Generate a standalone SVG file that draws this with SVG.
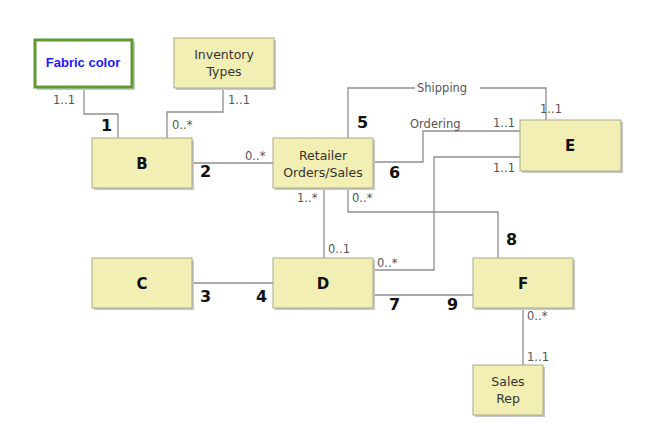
<svg xmlns="http://www.w3.org/2000/svg" width="663" height="435" viewBox="0 0 663 435">
<defs><style>
.n{fill:#f2efb4;stroke:#a9a98a;stroke-width:1}
.s{fill:#c8c8c8}
.l{fill:none;stroke:#8e8e8e;stroke-width:1.3}
.t{font-family:"DejaVu Sans",sans-serif;font-size:12.5px;fill:#333;text-anchor:middle}
.m{font-family:"DejaVu Sans",sans-serif;font-size:11.5px;fill:#555}
.b{font-family:"DejaVu Sans",sans-serif;font-size:16px;font-weight:bold;fill:#111}
.bl{font-family:"DejaVu Sans",sans-serif;font-size:15px;font-weight:bold;fill:#111}
</style></defs>
<rect width="663" height="435" fill="#fff"/>
<g id="connectors">
<polyline class="l" points="84,88 84,114 118,114 118,138"/>
<polyline class="l" points="223,88 223,112 167,112 167,138"/>
<line class="l" x1="192" y1="163" x2="273" y2="163"/>
<polyline class="l" points="348,138 348,88 546,88 546,120"/>
<rect x="415" y="80" width="65" height="16" fill="#fff"/>
<text class="m" x="417" y="92">Shipping</text>
<polyline class="l" points="373,162 423,162 423,131 520,131"/>
<polyline class="l" points="520,157 434,157 434,270 373,270"/>
<polyline class="l" points="348,188 348,212 498,212 498,258"/>
<line class="l" x1="324" y1="188" x2="324" y2="258"/>
<line class="l" x1="192" y1="283" x2="273" y2="283"/>
<line class="l" x1="373" y1="295" x2="473" y2="295"/>
<line class="l" x1="523" y1="308" x2="523" y2="365"/>
<text class="m" x="53" y="104">1..1</text>
<text class="m" x="228" y="104">1..1</text>
<text class="m" x="172" y="129">0..*</text>
<text class="m" x="245" y="160">0..*</text>
<text class="m" x="410" y="128">Ordering</text>
<text class="m" x="493" y="127">1..1</text>
<text class="m" x="540" y="113">1..1</text>
<text class="m" x="493" y="172">1..1</text>
<text class="m" x="297" y="202">1..*</text>
<text class="m" x="352" y="202">0..*</text>
<text class="m" x="328" y="253">0..1</text>
<text class="m" x="377" y="267">0..*</text>
<text class="m" x="527" y="320">0..*</text>
<text class="m" x="527" y="361">1..1</text>
<text class="b" x="101" y="131">1</text>
<text class="b" x="200" y="177">2</text>
<text class="b" x="357" y="128">5</text>
<text class="b" x="389" y="178">6</text>
<text class="b" x="506" y="245">8</text>
<text class="b" x="200" y="302">3</text>
<text class="b" x="256" y="302">4</text>
<text class="b" x="389" y="310">7</text>
<text class="b" x="447" y="310">9</text>
</g>
<g id="fabric"><rect x="37" y="42" width="98" height="48" class="s"/><rect x="35" y="40" width="97" height="47" fill="#fff" stroke="#5e9a30" stroke-width="3"/><text x="83" y="67" font-family="Liberation Sans,sans-serif" font-size="13" font-weight="bold" fill="#1a1aff" text-anchor="middle">Fabric color</text></g>
<g id="inventory"><rect x="176" y="40" width="100" height="50" class="s"/><rect x="174" y="38" width="100" height="50" class="n"/><text class="t" x="224" y="59">Inventory</text><text class="t" x="224" y="76">Types</text></g>
<g id="B"><rect x="94" y="140" width="100" height="50" class="s"/><rect x="92" y="138" width="100" height="50" class="n"/><text class="bl" x="142" y="169" text-anchor="middle">B</text></g>
<g id="retailer"><rect x="275" y="140" width="100" height="50" class="s"/><rect x="273" y="138" width="100" height="50" class="n"/><text class="t" x="323" y="160">Retailer</text><text class="t" x="323" y="177">Orders/Sales</text></g>
<g id="E"><rect x="522" y="122" width="101" height="51" class="s"/><rect x="520" y="120" width="101" height="51" class="n"/><text class="bl" x="570" y="151" text-anchor="middle">E</text></g>
<g id="C"><rect x="94" y="260" width="100" height="50" class="s"/><rect x="92" y="258" width="100" height="50" class="n"/><text class="bl" x="142" y="289" text-anchor="middle">C</text></g>
<g id="D"><rect x="275" y="260" width="100" height="50" class="s"/><rect x="273" y="258" width="100" height="50" class="n"/><text class="bl" x="323" y="289" text-anchor="middle">D</text></g>
<g id="F"><rect x="475" y="260" width="100" height="50" class="s"/><rect x="473" y="258" width="100" height="50" class="n"/><text class="bl" x="523" y="289" text-anchor="middle">F</text></g>
<g id="salesrep"><rect x="475" y="367" width="70" height="50" class="s"/><rect x="473" y="365" width="70" height="50" class="n"/><text class="t" x="508" y="386">Sales</text><text class="t" x="508" y="403">Rep</text></g>
</svg>
